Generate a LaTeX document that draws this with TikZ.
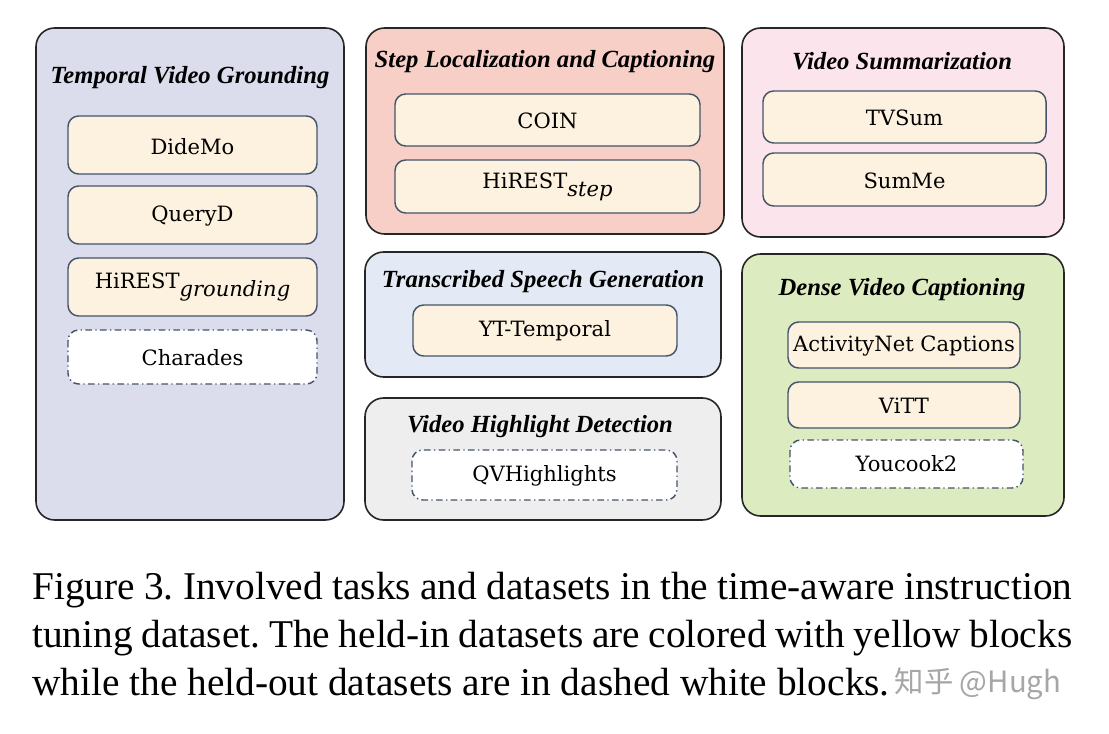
\documentclass[tikz,border=0pt]{standalone}
\usepackage{fontspec}
\setmainfont{Liberation Serif}
\newfontfamily\ds{DejaVu Serif}
\newfontfamily\cjk{Noto Sans CJK SC}
\begin{document}
\begin{tikzpicture}[x=0.75pt,y=-0.75pt,
 grp/.style={draw=black!85,line width=1.2pt,rounded corners=14pt},
 ds/.style={draw=edgec,line width=1.1pt,rounded corners=8pt,fill=yellowbox},
 dsout/.style={draw=edgec,line width=1.1pt,rounded corners=8pt,fill=white,dash pattern=on 5pt off 2.5pt on 1pt off 2.5pt},
 lab/.style={font=\ds\fontsize{15.8}{18}\selectfont},
 ttl/.style={font=\bfseries\itshape\fontsize{18.5}{20}\selectfont}]
\definecolor{yellowbox}{HTML}{FDF2DF}
\definecolor{edgec}{HTML}{44546A}
\useasboundingbox (0,0) rectangle (1109,734);
\fill[white] (0,0) rectangle (1109,734);
\draw[grp,fill={rgb,255:red,220;green,221;blue,236}] (36,28) rectangle (344,520);
\draw[grp,fill={rgb,255:red,248;green,207;blue,198}] (366,28) rectangle (724,234);
\draw[grp,fill={rgb,255:red,252;green,228;blue,236}] (742,28) rectangle (1064,237);
\draw[grp,fill={rgb,255:red,227;green,234;blue,245}] (365,252) rectangle (721,377);
\draw[grp,fill={rgb,255:red,238;green,238;blue,238}] (365,398) rectangle (721,520);
\draw[grp,fill={rgb,255:red,221;green,235;blue,192}] (742,254) rectangle (1064,516);
\node[ttl] (t1) at (190,78) {Temporal Video Grounding};
\node[ttl] (t2) at (545,62) {Step Localization and Captioning};
\node[ttl] (t3) at (902,61) {Video Summarization};
\node[ttl] (t4) at (543,282) {Transcribed Speech Generation};
\node[ttl] (t5) at (540,427) {Video Highlight Detection};
\node[ttl] (t6) at (902,290) {Dense Video Captioning};
\draw[ds] (68,116) rectangle (317,174); \node[lab] (a1) at (192.5,147) {DideMo};
\draw[ds] (68,186) rectangle (317,244); \node[lab] (a2) at (192.5,216) {QueryD};
\draw[ds] (68,258) rectangle (317,316); \node[lab] (a3) at (192.5,287) {HiREST\raisebox{-0.35em}{\itshape grounding}};
\draw[dsout] (68,330) rectangle (317,384); \node[lab] (a4) at (192.5,358) {Charades};
\draw[ds] (395,94) rectangle (700,146); \node[lab] (b1) at (547.5,121) {COIN};
\draw[ds] (395,160) rectangle (700,213); \node[lab] (b2) at (547.5,187) {HiREST\raisebox{-0.35em}{\itshape step}};
\draw[ds] (763,91) rectangle (1046,143); \node[lab] (c1) at (904.5,118) {TVSum};
\draw[ds] (763,153) rectangle (1046,206); \node[lab] (c2) at (904.5,181) {SumMe};
\draw[ds] (413,305) rectangle (677,356); \node[lab] (d1) at (545,330.5) {YT-Temporal};
\draw[dsout] (412,450) rectangle (677,500); \node[lab] (e1) at (544.5,476) {QVHighlights};
\draw[ds] (788,322) rectangle (1020,368); \node[lab] (f1) at (904,346) {ActivityNet Captions};
\draw[ds] (788,382) rectangle (1020,428); \node[lab] (f2) at (904,406) {ViTT};
\draw[dsout] (790,440) rectangle (1023,488); \node[lab] (f3) at (906.5,464) {Youcook2};
\node[anchor=north west,text width=1040*0.75pt,align=justify,inner sep=0,font=\frenchspacing\fontsize{29.5}{36}\selectfont] (cap) at (32,572)
 {Figure 3. Involved tasks and datasets in the time-aware instruction\linebreak tuning dataset. The held-in datasets are colored with yellow blocks\linebreak while the held-out datasets are in dashed white blocks.};
\node[anchor=west,text=black!35,font=\cjk\fontsize{22}{24}\selectfont] (wm) at (890,684) {知乎 @Hugh};
\end{tikzpicture}
\end{document}
